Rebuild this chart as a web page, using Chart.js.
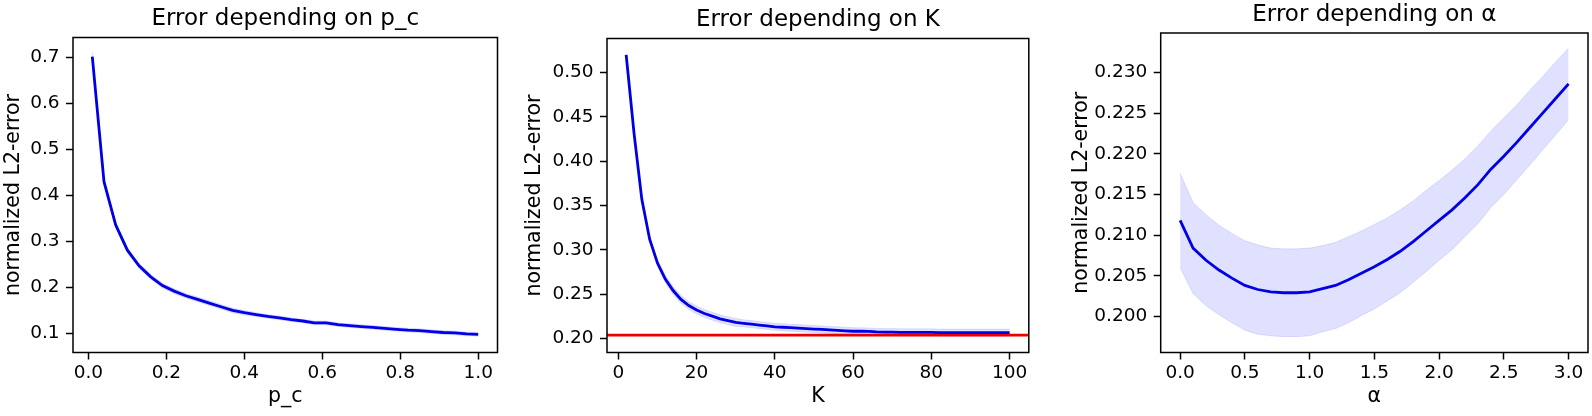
<!DOCTYPE html>
<html>
<head>
<meta charset="utf-8">
<script src="https://cdn.jsdelivr.net/npm/chart.js@4.4.0/dist/chart.umd.min.js"></script>
<style>
  body { margin: 0; background: #fff; }
  #wrap { position: relative; width: 1592px; height: 416px; }
  canvas { position: absolute; top: 0; }
</style>
</head>
<body>
<div id="wrap">
  <canvas id="chartPc" width="520" height="416" style="left:0px"></canvas>
  <canvas id="chartK" width="530" height="416" style="left:520px"></canvas>
  <canvas id="chartAlpha" width="542" height="416" style="left:1050px"></canvas>
</div>
<script>
// ---- data ----
var pcValues = [0.01, 0.04, 0.07, 0.10, 0.13, 0.16, 0.19, 0.22, 0.25, 0.28, 0.31, 0.34, 0.37, 0.40, 0.43, 0.46, 0.49,
                0.52, 0.55, 0.58, 0.61, 0.64, 0.67, 0.70, 0.73, 0.76, 0.79, 0.82, 0.85, 0.88, 0.91, 0.94, 0.97, 1.00];
var pcError = [0.702, 0.430, 0.336, 0.281, 0.247, 0.223, 0.204, 0.192, 0.182, 0.174, 0.166, 0.158, 0.150, 0.145, 0.141, 0.137, 0.134,
               0.130, 0.127, 0.123, 0.123, 0.119, 0.117, 0.115, 0.113, 0.111, 0.109, 0.107, 0.106, 0.104, 0.102, 0.101, 0.099, 0.098];
var pcSpread = [0.010, 0.006, 0.005, 0.005, 0.005, 0.005, 0.005, 0.005, 0.005, 0.005, 0.005, 0.005, 0.005, 0.005, 0.004, 0.004, 0.004,
                0.004, 0.004, 0.004, 0.004, 0.004, 0.004, 0.004, 0.004, 0.004, 0.004, 0.004, 0.004, 0.004, 0.004, 0.004, 0.004, 0.004];

var kValues = [2, 4, 6, 8, 10, 12, 14, 16, 18, 20, 22, 24, 26, 28, 30, 32, 34, 36, 38, 40, 42, 44, 46, 48, 50,
               52, 54, 56, 58, 60, 62, 64, 66, 68, 70, 72, 74, 76, 78, 80, 82, 84, 86, 88, 90, 92, 94, 96, 98, 100];
var kError = [0.520, 0.432, 0.357, 0.312, 0.285, 0.267, 0.254, 0.244, 0.237, 0.232, 0.228, 0.225, 0.222, 0.220, 0.218, 0.217, 0.216, 0.215, 0.214, 0.213, 0.2125, 0.212, 0.2115, 0.211, 0.2105,
              0.210, 0.2095, 0.209, 0.2085, 0.208, 0.208, 0.2078, 0.2072, 0.207, 0.207, 0.2068, 0.2068, 0.2067, 0.2067, 0.2067, 0.2065, 0.2064, 0.2064, 0.2064, 0.2064, 0.2064, 0.2064, 0.2064, 0.2064, 0.2064];
var kSpread = [0.002, 0.002, 0.003, 0.003, 0.004, 0.004, 0.0045, 0.0045, 0.0045, 0.0045, 0.0045, 0.0045, 0.0045, 0.0045, 0.0045, 0.004, 0.004, 0.004, 0.004, 0.004, 0.004, 0.004, 0.004, 0.004, 0.004,
               0.004, 0.004, 0.004, 0.004, 0.004, 0.004, 0.004, 0.004, 0.004, 0.004, 0.004, 0.004, 0.004, 0.004, 0.004, 0.004, 0.004, 0.004, 0.004, 0.004, 0.004, 0.004, 0.004, 0.004, 0.004];
var kReference = 0.2037;

var alphaValues = [0.0, 0.1, 0.2, 0.3, 0.4, 0.5, 0.6, 0.7, 0.8, 0.9, 1.0, 1.1, 1.2, 1.3, 1.4, 1.5,
                   1.6, 1.7, 1.8, 1.9, 2.0, 2.1, 2.2, 2.3, 2.4, 2.5, 2.6, 2.7, 2.8, 2.9, 3.0];
var alphaError = [0.2118, 0.2084, 0.2069, 0.2057, 0.2047, 0.2038, 0.2033, 0.2030, 0.2029, 0.2029, 0.2030, 0.2034, 0.2038, 0.2045, 0.2053, 0.2061,
                  0.2070, 0.2080, 0.2092, 0.2105, 0.2118, 0.2131, 0.2146, 0.2162, 0.2181, 0.2197, 0.2214, 0.2232, 0.2250, 0.2268, 0.2286];
var alphaSpread = [0.0058, 0.0056, 0.0056, 0.0055, 0.0055, 0.0055, 0.0055, 0.0054, 0.0054, 0.0054, 0.0054, 0.0053, 0.0053, 0.0053, 0.0052, 0.0052,
                   0.0051, 0.0051, 0.0050, 0.0050, 0.0049, 0.0049, 0.0048, 0.0048, 0.0047, 0.0047, 0.0046, 0.0046, 0.0045, 0.0045, 0.0044];

// tick steps, label decimals and axis limits
var pcTicks = { xMin: -0.0395, xMax: 1.0495, xStep: 0.2, xDigits: 1, yMin: 0.0585, yMax: 0.7436, yStep: 0.1, yDigits: 1 };
var kTicks = { xMin: -2.9, xMax: 104.9, xStep: 20, xDigits: 0, yMin: 0.184, yMax: 0.5386, yStep: 0.05, yDigits: 2 };
var alphaTicks = { xMin: -0.15, xMax: 3.15, xStep: 0.5, xDigits: 1, yMin: 0.19555, yMax: 0.23486, yStep: 0.005, yDigits: 3 };

var FONT = "'DejaVu Sans', sans-serif";
var LINE_BLUE = 'rgb(0,0,228)';
var BAND_FILL = 'rgba(0,0,255,0.12)';
var BAND_EDGE = 'rgba(0,0,255,0.10)';

function points(xs, ys) {
    var out = [];
    for (var i = 0; i < xs.length; i++) {
        out.push({ x: xs[i], y: ys[i] });
    }
    return out;
}

function band(xs, ys, spread, sign) {
    var out = [];
    for (var i = 0; i < xs.length; i++) {
        out.push({ x: xs[i], y: ys[i] + sign * spread[i] });
    }
    return out;
}

// matplotlib style box around the plot area
var frame = {
    id: 'frame',
    afterDraw: function(chart) {
        var a = chart.chartArea;
        var c = chart.ctx;
        c.save();
        c.strokeStyle = '#000';
        c.lineWidth = 1.5;
        c.strokeRect(a.left, a.top, a.right - a.left, a.bottom - a.top);
        c.restore();
    }
};

function makeChart(id, datasets, t, o) {
    var ctx = document.getElementById(id);
    var tickFont = { family: FONT, size: 18.5, lineHeight: 1.2 };
    var labelFont = { family: FONT, size: 20.5, lineHeight: 1.2 };
    return new Chart(ctx, {
        type: 'line',
        data: { datasets: datasets },
        options: {
            responsive: false,
            animation: false,
            devicePixelRatio: 1,
            layout: { padding: { left: 0, right: o.padRight, top: 0, bottom: 0 } },
            elements: { point: { radius: 0 }, line: { tension: 0 } },
            plugins: {
                legend: { display: false },
                tooltip: { enabled: false },
                title: {
                    display: true,
                    text: o.title,
                    fullSize: false,
                    color: '#000',
                    font: { family: FONT, size: 23, weight: 'normal', lineHeight: 1.2 },
                    padding: { top: o.titleTop, bottom: o.titleBottom }
                }
            },
            scales: {
                x: {
                    type: 'linear',
                    min: t.xMin,
                    max: t.xMax,
                    border: { display: false },
                    grid: { drawOnChartArea: false, drawTicks: true, tickLength: 7, tickWidth: 1.5, tickColor: '#000' },
                    ticks: {
                        stepSize: t.xStep, includeBounds: false, autoSkip: false, maxRotation: 0,
                        color: '#000', font: tickFont, padding: 3,
                        callback: function(v) { return Number(v).toFixed(t.xDigits); }
                    },
                    title: { display: true, text: o.xLabel, color: '#000', font: labelFont, padding: { top: 0, bottom: 7 } },
                    afterFit: function(s) { s.height = o.xHeight; }
                },
                y: {
                    type: 'linear',
                    min: t.yMin,
                    max: t.yMax,
                    border: { display: false },
                    grid: { drawOnChartArea: false, drawTicks: true, tickLength: 7, tickWidth: 1.5, tickColor: '#000' },
                    ticks: {
                        stepSize: t.yStep, includeBounds: false, autoSkip: false,
                        color: '#000', font: tickFont, padding: 6.4,
                        callback: function(v) { return Number(v).toFixed(t.yDigits); }
                    },
                    title: { display: true, text: 'normalized L2-error', color: '#000', font: labelFont, padding: { top: o.yTitlePad, bottom: 0 } },
                    afterFit: function(s) { s.width = o.yWidth; }
                }
            }
        },
        plugins: [frame]
    });
}

function meanSet(xs, ys) {
    return { data: points(xs, ys), borderColor: LINE_BLUE, borderWidth: 2.8, fill: false };
}
function lowSet(xs, ys, sp) {
    return { data: band(xs, ys, sp, -1), borderColor: BAND_EDGE, borderWidth: 1, fill: false };
}
function highSet(xs, ys, sp) {
    return { data: band(xs, ys, sp, 1), borderColor: BAND_EDGE, borderWidth: 1, backgroundColor: BAND_FILL, fill: '-1' };
}

// ======== p_c ========
makeChart('chartPc', [
    meanSet(pcValues, pcError),
    lowSet(pcValues, pcError, pcSpread),
    highSet(pcValues, pcError, pcSpread)
], pcTicks, {
    title: 'Error depending on p_c', xLabel: 'p_c',
    padRight: 22.5, yWidth: 73, xHeight: 63.5, yTitlePad: 0.9, titleTop: 5, titleBottom: 4.9
});

// ======== K ========
makeChart('chartK', [
    meanSet(kValues, kError),
    { data: [{ x: kTicks.xMin, y: kReference }, { x: kTicks.xMax, y: kReference }], borderColor: 'rgb(235,0,0)', borderWidth: 2.8, fill: false },
    lowSet(kValues, kError, kSpread),
    highSet(kValues, kError, kSpread)
], kTicks, {
    title: 'Error depending on K', xLabel: 'K',
    padRight: 21.2, yWidth: 87, xHeight: 63.5, yTitlePad: 2.7, titleTop: 6.2, titleBottom: 4.7
});

// ======== alpha ========
makeChart('chartAlpha', [
    meanSet(alphaValues, alphaError),
    lowSet(alphaValues, alphaError, alphaSpread),
    highSet(alphaValues, alphaError, alphaSpread)
], alphaTicks, {
    title: 'Error depending on α', xLabel: 'α',
    padRight: 4, yWidth: 110.7, xHeight: 63.5, yTitlePad: 19.7, titleTop: 1.5, titleBottom: 3.9
});
</script>
</body>
</html>
